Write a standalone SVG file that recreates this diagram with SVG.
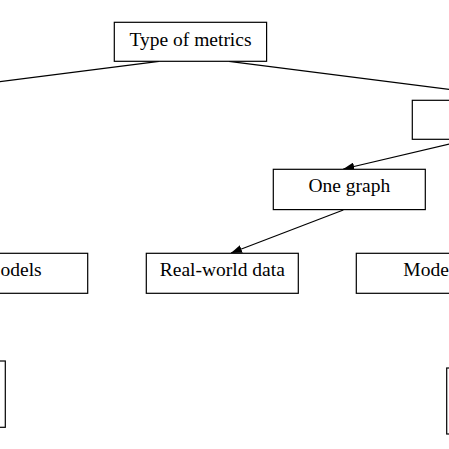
<svg xmlns="http://www.w3.org/2000/svg" width="449" height="449" viewBox="0 0 449 449">
<style>
.box{fill:#fff;stroke:#000;stroke-width:1.2}
.lbl{font-family:"Liberation Serif","Times New Roman",serif;font-size:19.5px;fill:#000;text-anchor:middle}
.ln{stroke:#000;stroke-width:1.2;fill:none}
</style>
<defs>
<marker id="ah" markerWidth="12" markerHeight="8" refX="11" refY="4" orient="auto" markerUnits="userSpaceOnUse">
<path d="M0,0 L11,4 L0,8 Z" fill="#000"/>
</marker>
</defs>
<rect width="449" height="449" fill="#fff"/>
<g id="connectors">
<line class="ln" x1="159" y1="61.3" x2="-10" y2="83"/>
<line class="ln" x1="229" y1="61.3" x2="470" y2="92"/>
<line class="ln" x1="460" y1="141.5" x2="343.3" y2="169" marker-end="url(#ah)"/>
<line class="ln" x1="343.3" y1="210" x2="231" y2="253" marker-end="url(#ah)"/>
</g>
<g id="type-of-metrics">
<rect class="box" x="114.3" y="22.3" width="152.3" height="39"/>
<text class="lbl" x="190.5" y="45.5">Type of metrics</text>
</g>
<g id="top-right">
<rect class="box" x="412.3" y="100.3" width="100" height="39"/>
</g>
<g id="one-graph">
<rect class="box" x="273.3" y="169.3" width="152" height="40.3"/>
<text class="lbl" x="349.3" y="191.7">One graph</text>
</g>
<g id="models-left">
<rect class="box" x="-70" y="253.3" width="157.7" height="40"/>
<text class="lbl" x="0.5" y="276" style="text-anchor:start">odels</text>
</g>
<g id="real-world-data">
<rect class="box" x="146.3" y="253.3" width="152" height="40"/>
<text class="lbl" x="222.3" y="276">Real-world data</text>
</g>
<g id="models-right">
<rect class="box" x="356.3" y="253.3" width="152" height="40"/>
<text class="lbl" x="403.3" y="276" style="text-anchor:start">Mode</text>
</g>
<g id="bottom-left">
<rect class="box" x="-100" y="361" width="105.3" height="66.3"/>
</g>
<g id="bottom-right">
<rect class="box" x="446.7" y="368" width="100" height="66"/>
</g>
</svg>
